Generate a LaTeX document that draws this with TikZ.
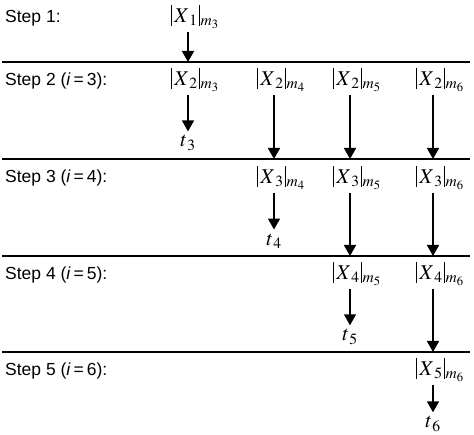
\documentclass[tikz,border=0pt]{standalone}
\usepackage{mathptmx}
\usepackage[no-math]{fontspec}
\newfontfamily\lblfont{Liberation Sans}
\usetikzlibrary{arrows.meta}
\newcommand{\xbar}{\rule[-4pt]{0.75pt}{21pt}}
\newcommand{\Xm}[2]{$\xbar\mkern2mu X_{\mkern3mu #1}\mkern1mu\xbar\mkern1mu\rlap{\raisebox{-3.5pt}{$\scriptstyle m_{#2}$}}$}
\tikzset{
  steplbl/.style={anchor=west, inner sep=0pt, font=\lblfont\fontsize{17.5}{20}\selectfont},
  xnode/.style={inner sep=0pt, font=\fontsize{21}{24}\selectfont},
  tnode/.style={inner sep=0pt, font=\fontsize{21}{24}\selectfont},
  arr/.style={line width=1.6pt, -{Triangle[width=12pt,length=11pt]}},
  sep/.style={line width=1.8pt}
}
\begin{document}
\begin{tikzpicture}[x=1pt,y=-1pt]
\useasboundingbox (0,0) rectangle (474,435);
% separator lines
\coordinate (l1a) at (2,62);  \coordinate (l1b) at (470,62);
\coordinate (l2a) at (2,159); \coordinate (l2b) at (470,159);
\coordinate (l3a) at (2,256); \coordinate (l3b) at (470,256);
\coordinate (l4a) at (2,352); \coordinate (l4b) at (470,352);
\draw[sep] (l1a) -- (l1b);
\draw[sep] (l2a) -- (l2b);
\draw[sep] (l3a) -- (l3b);
\draw[sep] (l4a) -- (l4b);
% step labels
\node[steplbl] (s1) at (5,18) {Step 1:};
\node[steplbl] (s2) at (5,81) {Step 2 (\textit{i}\,=\,3):};
\node[steplbl] (s3) at (5,178) {Step 3 (\textit{i}\,=\,4):};
\node[steplbl] (s4) at (5,275) {Step 4 (\textit{i}\,=\,5):};
\node[steplbl] (s5) at (5,371) {Step 5 (\textit{i}\,=\,6):};
% row 1
\node[xnode] (x13) at (186,17) {\Xm{1}{3}};
% row 2
\node[xnode] (x23) at (186,80) {\Xm{2}{3}};
\node[xnode] (x24) at (272,80) {\Xm{2}{4}};
\node[xnode] (x25) at (348,80) {\Xm{2}{5}};
\node[xnode] (x26) at (431,80) {\Xm{2}{6}};
\node[tnode] (t3) at (188,143) {$t_{\mkern2mu 3}$};
% row 3
\node[xnode] (x34) at (272,178) {\Xm{3}{4}};
\node[xnode] (x35) at (348,178) {\Xm{3}{5}};
\node[xnode] (x36) at (431,178) {\Xm{3}{6}};
\node[tnode] (t4) at (274,241) {$t_{\mkern2mu 4}$};
% row 4
\node[xnode] (x45) at (348,274) {\Xm{4}{5}};
\node[xnode] (x46) at (431,274) {\Xm{4}{6}};
\node[tnode] (t5) at (350,337) {$t_{\mkern2mu 5}$};
% row 5
\node[xnode] (x56) at (431,370) {\Xm{5}{6}};
\node[tnode] (t6) at (433,424) {$t_{\mkern2mu 6}$};
% arrows
\draw[arr, shorten <=3pt] ([xshift=2pt]x13.south) -- ([xshift=2pt]x13.south |- l1a);
\draw[arr, shorten <=3pt, shorten >=4pt] ([xshift=2pt]x23.south) -- (t3);
\draw[arr, shorten <=3pt] ([xshift=2pt]x24.south) -- ([xshift=2pt]x24.south |- l2a);
\draw[arr, shorten <=3pt] ([xshift=2pt]x25.south) -- ([xshift=2pt]x25.south |- l2a);
\draw[arr, shorten <=3pt] ([xshift=2pt]x26.south) -- ([xshift=2pt]x26.south |- l2a);
\draw[arr, shorten <=3pt, shorten >=4pt] ([xshift=2pt]x34.south) -- (t4);
\draw[arr, shorten <=3pt] ([xshift=2pt]x35.south) -- ([xshift=2pt]x35.south |- l3a);
\draw[arr, shorten <=3pt] ([xshift=2pt]x36.south) -- ([xshift=2pt]x36.south |- l3a);
\draw[arr, shorten <=3pt, shorten >=4pt] ([xshift=2pt]x45.south) -- (t5);
\draw[arr, shorten <=3pt] ([xshift=2pt]x46.south) -- ([xshift=2pt]x46.south |- l4a);
\draw[arr, shorten <=3pt, shorten >=4pt] ([xshift=2pt]x56.south) -- (t6);
\end{tikzpicture}
\end{document}
